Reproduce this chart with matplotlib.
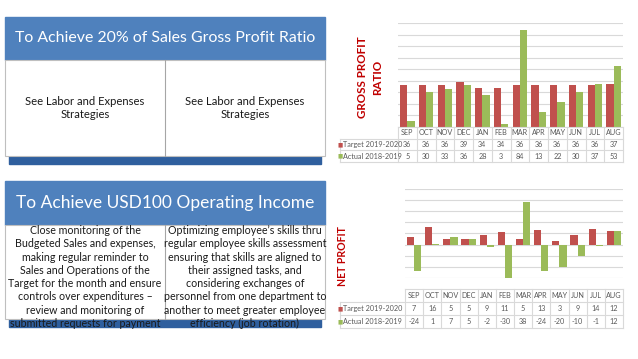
import matplotlib.pyplot as plt
from matplotlib.patches import Rectangle

plt.rcParams['font.family'] = ['Lato', 'DejaVu Sans']

# chart data
months = ['SEP', 'OCT', 'NOV', 'DEC', 'JAN', 'FEB', 'MAR', 'APR', 'MAY', 'JUN', 'JUL', 'AUG']
series_names = ['Target 2019-2020', 'Actual 2018-2019']
gp_target = [36, 36, 36, 39, 34, 34, 36, 36, 36, 36, 36, 37]
gp_actual = [5, 30, 33, 36, 28, 3, 84, 13, 22, 30, 37, 53]
np_target = [7, 16, 5, 5, 9, 11, 5, 13, 3, 9, 14, 12]
np_actual = [-24, 1, 7, 5, -2, -30, 38, -24, -20, -10, -1, 12]

# slide text
title_top = 'To Achieve 20% of Sales Gross Profit Ratio'
cells_top = ['See Labor and Expenses\nStrategies', 'See Labor and Expenses\nStrategies']
title_bot = 'To Achieve USD100 Operating Income'
cells_bot = ['Close monitoring of the\nBudgeted Sales and expenses,\nmaking regular reminder to\n'
             'Sales and Operations of the\nTarget for the month and ensure\n'
             'controls over expenditures \u2013\nreview and monitoring of\nsubmitted requests for payment',
             'Optimizing employee\u2019s skills thru\nregular employee skills assessment\n'
             'ensuring that skills are aligned to\ntheir assigned tasks, and\n'
             'considering exchanges of\npersonnel from one department to\n'
             'another to meet greater employee\nefficiency (job rotation)']

RED = '#C0504D'
GREEN = '#9BBB59'
BLUE = '#4F81BD'
W, H = 638, 359

fig = plt.figure(figsize=(W / 100, H / 100), dpi=100)


def fx(x):
    return x / W


def fy(y):
    return 1 - y / H


def rect(x0, y0, x1, y1, **kw):
    fig.patches.append(Rectangle((fx(x0), fy(y1)), fx(x1 - x0), (y1 - y0) / H,
                                 transform=fig.transFigure, **kw))


def text_box(top, head_h, body_h, title, title_fs, cells, cell_y, fs):
    left, right, mid = 5, 325, 165
    rect(9, top + head_h + body_h - 2, 321, top + head_h + body_h + 8, color='#2F5F9E', zorder=0)
    rect(left, top, right, top + head_h, color=BLUE, zorder=1)
    rect(left, top + head_h, right, top + head_h + body_h, facecolor='white',
         edgecolor='#BFBFBF', lw=0.8, zorder=1)
    fig.lines.append(plt.Line2D([fx(mid), fx(mid)], [fy(top + head_h), fy(top + head_h + body_h)],
                                transform=fig.transFigure, color='#A6A6A6', lw=0.8, zorder=2))
    fig.text(fx((left + right) / 2), fy(top + head_h / 2), title, color='white',
             fontsize=title_fs, ha='center', va='center', zorder=3)
    for c, cx in zip(cells, [(left + mid) / 2, (mid + right) / 2]):
        fig.text(fx(cx), fy(cell_y), c, ha='center', va='center', fontsize=fs,
                 color='#1A1A1A', linespacing=1.25, zorder=3)


text_box(17, 43, 96, title_top, 11.4, cells_top, 108, 8.1)
text_box(181, 44, 94, title_bot, 12.5, cells_bot, 277, 7.7)


def chart(box, target, actual, ylim, tab_top, row_h, x_left):
    x0, y0, x1, y1 = box
    ax = fig.add_axes([fx(x0), fy(y1), fx(x1 - x0), (y1 - y0) / H])
    idx = range(len(months))
    ax.bar([i - 0.195 for i in idx], target, width=0.39, color=RED, zorder=2)
    ax.bar([i + 0.195 for i in idx], actual, width=0.39, color=GREEN, zorder=2)
    ax.set_xlim(-0.5, len(months) - 0.5)
    ax.set_ylim(*ylim)
    ax.set_yticks(range(ylim[0], ylim[1] + 1, 10))
    ax.yaxis.grid(True, color='#D9D9D9', lw=0.8)
    ax.set_axisbelow(True)
    ax.tick_params(length=0, labelleft=False, labelbottom=False)
    for s in ax.spines.values():
        s.set_visible(False)

    tr = ax.get_xaxis_transform()
    n = len(months)
    lc = '#D9D9D9'
    bottom = tab_top - 3 * row_h
    ax.plot([-0.5, n - 0.5], [tab_top, tab_top], transform=tr, color=lc, lw=0.8, clip_on=False)
    for k in (1, 2, 3):
        y = tab_top - k * row_h
        ax.plot([x_left, n - 0.5], [y, y], transform=tr, color=lc, lw=0.8, clip_on=False)
    for i in range(-1, n):
        ax.plot([i + 0.5, i + 0.5], [tab_top, bottom], transform=tr, color=lc, lw=0.8, clip_on=False)
    ax.plot([x_left, x_left], [tab_top - row_h, bottom], transform=tr, color=lc, lw=0.8, clip_on=False)

    rows = [months, target, actual]
    for r, vals in enumerate(rows):
        yc = tab_top - (r + 0.5) * row_h
        for i, v in enumerate(vals):
            ax.text(i, yc, str(v), transform=tr, ha='center', va='center',
                    fontsize=5.2, color='#595959')
    for r, (name, col) in enumerate(zip(series_names, [RED, GREEN])):
        yc = tab_top - (r + 1.5) * row_h
        ax.text(x_left - 0.12, yc, '\u25A0', transform=tr, ha='left', va='center',
                fontsize=4, color=col, family='DejaVu Sans')
        ax.text(x_left + 0.15, yc, name, transform=tr, ha='left', va='center',
                fontsize=5.2, color='#595959')
    return ax


chart((398, 23, 623, 127), gp_target, gp_actual, (0, 90), 0.0, 0.112, -3.6)
chart((405, 189, 623, 278), np_target, np_actual, (-30, 50), -0.124, 0.146, -4.08)

fig.text(fx(362), fy(77), 'GROSS PROFIT', rotation=90, ha='center', va='center',
         fontsize=8.4, fontweight='bold', color='#C00000')
fig.text(fx(378), fy(77), 'RATIO', rotation=90, ha='center', va='center',
         fontsize=8.4, fontweight='bold', color='#C00000')
fig.text(fx(343), fy(256), 'NET PROFIT', rotation=90, ha='center', va='center',
         fontsize=7.6, fontweight='bold', color='#C00000')

fig.savefig('out.png', dpi=100)
